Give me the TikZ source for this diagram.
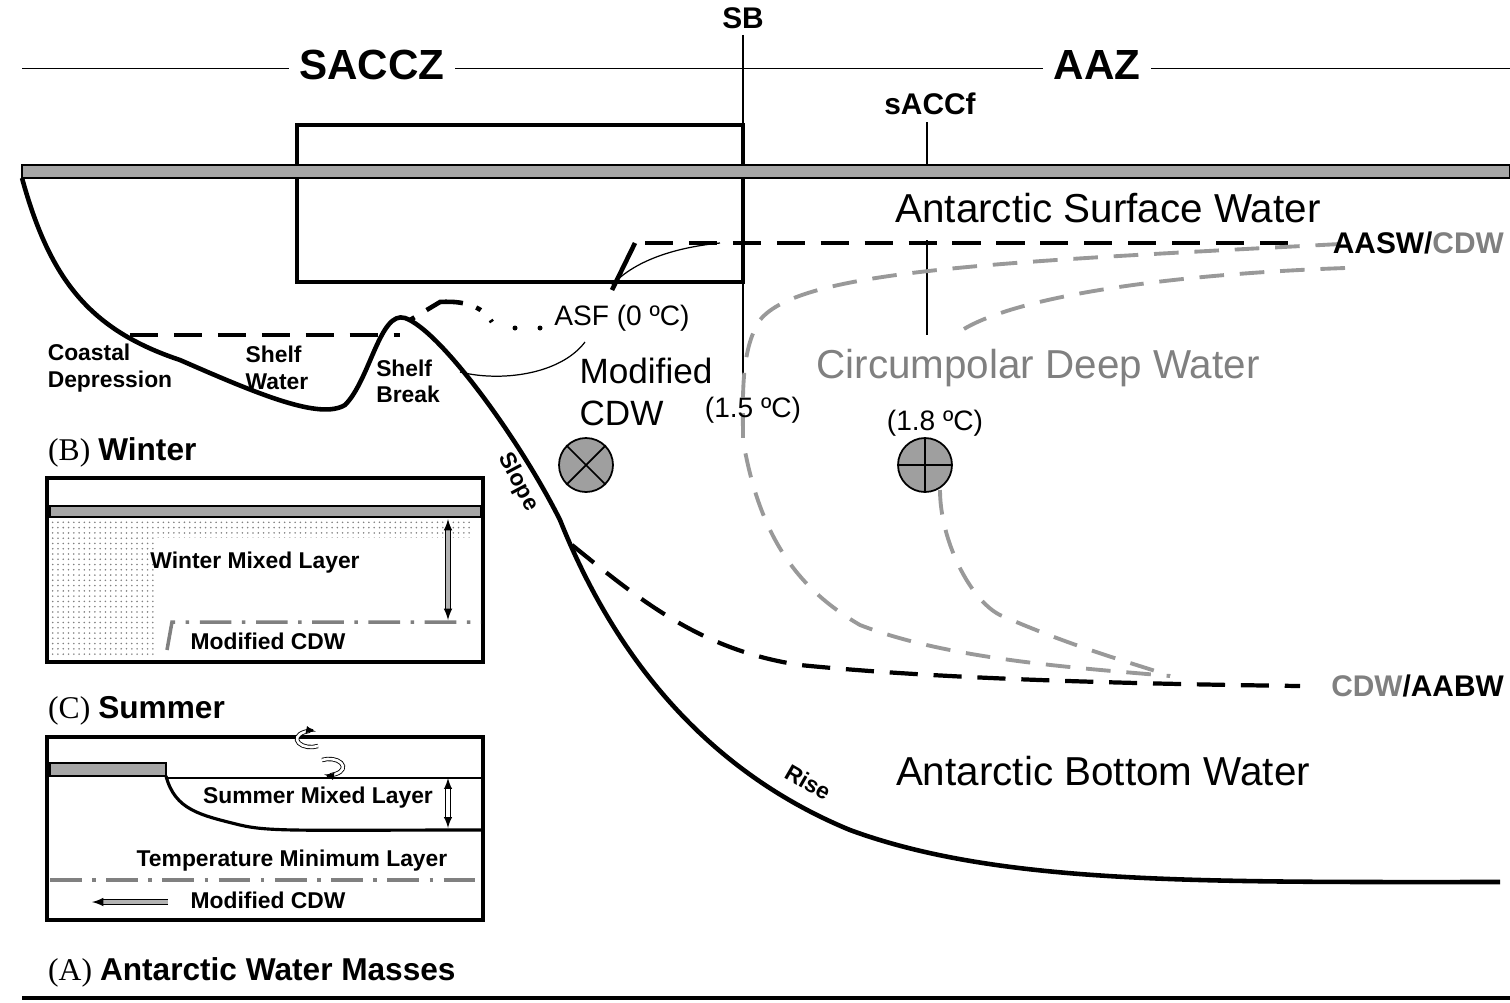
\documentclass[tikz,border=0pt]{standalone}
\usepackage{fontspec}
\setmainfont{Liberation Serif}
\setsansfont{Liberation Sans}
\usetikzlibrary{arrows, patterns, positioning}
\begin{document}
\begin{tikzpicture}[x = 0.02cm, y = -0.02cm, > = stealth,
    grey dash/.style = {draw = gray!80, line width = 2.2pt, dash pattern = on 14pt off 9pt},
    black dash/.style = {line width = 2.4pt, dash pattern = on 16pt off 9pt},
    dash dot/.style = {draw = gray, line width = 2pt, dash pattern = on 18pt off 6pt on 2pt off 6pt},
    lab/.style = {font = \sffamily\bfseries\fontsize{13}{15}\selectfont},
    mid/.style = {font = \sffamily\bfseries\fontsize{17}{19}\selectfont},
    num/.style = {font = \sffamily\fontsize{16}{18}\selectfont},
    big/.style = {font = \sffamily\fontsize{23}{27}\selectfont},
    zone/.style = {font = \sffamily\bfseries\fontsize{24}{26}\selectfont, fill = white, inner sep = 6pt},
    panel/.style = {font = \fontsize{18}{20}\selectfont, anchor = west},
    current/.style = {circle, draw, line width = 1pt, fill = gray!75, minimum size = 1.08cm, inner sep = 0pt},
    swirl/.style = {->, >=latex, double = white, double distance = 1.5pt, line width = 0.5pt}
  ]
  \useasboundingbox (0,0) rectangle (1510,1002);

  % zones along the top
  \coordinate (zl) at (22,68); \coordinate (zr) at (1510,68);
  \draw (zl) -- (zr);
  \node[zone] (saccz) at (372,65) {SACCZ};
  \node[zone] (aaz) at (1097,65) {AAZ};
  \node[mid] (sb) at (743,18) {SB};
  \node[mid] (saccf) at (930,104) {sACCf};
  \coordinate (sbfoot) at (743,375);
  \draw[line width = 1pt] (sb.south) -- (sbfoot);
  \draw[line width = 1pt] (927,122) -- (927,166);
  \draw[line width = 1pt] (927,240) -- (927,335);

  % box and ice surface
  \draw[line width = 2.4pt] (297,125) rectangle (743,282);
  \draw[fill = gray!70, line width = 0.8pt] (22,165) rectangle (1510,178);

  % bottom profile
  \draw[line width = 2.6pt] (22,178) .. controls (50,280) and (90,330) .. (180,360)
    .. controls (260,395) and (320,420) .. (345,405)
    .. controls (370,380) and (380,310) .. (405,318)
    .. controls (440,330) and (520,440) .. (560,520)
    .. controls (600,620) and (680,760) .. (850,830)
    .. controls (1000,885) and (1200,882) .. (1500,882);

  % fronts
  \draw[black dash] (130,335) -- (400,335);
  \draw[line width = 2.6pt, dash pattern = on 3pt off 8pt on 22pt off 8pt] (410,320) -- (440,302) .. controls (470,300) and (485,310) .. (492,322);
  \fill (515,328) circle (2.5); \fill (540,328) circle (2.5);
  \draw[black dash] (645,243) -- (1300,243);
  \draw[line width = 2.6pt] (612,290) -- (635,243);
  \draw[line width = 0.7pt] (612,285) .. controls (640,255) and (690,246) .. (720,243);
  \draw[line width = 0.7pt] (585,342) .. controls (560,375) and (500,382) .. (460,372);
  \draw[grey dash] (1340,244) .. controls (1000,262) and (800,270) .. (760,320) .. controls (740,350) and (743,400) .. (743,440)
    .. controls (760,540) and (800,590) .. (860,625) .. controls (950,660) and (1080,668) .. (1170,676);
  \draw[grey dash] (1345,268) .. controls (1150,275) and (1000,300) .. (955,335);
  \draw[grey dash] (940,490) .. controls (940,540) and (970,600) .. (1000,615) .. controls (1080,650) and (1140,665) .. (1170,676);
  \draw[black dash] (572,545) .. controls (640,600) and (700,650) .. (800,665) .. controls (950,680) and (1150,684) .. (1300,686);

  % currents
  \node[current] (into) at (586,465) {};
  \draw[line width = 1pt] (into.north west) -- (into.south east) (into.north east) -- (into.south west);
  \node[current] (outof) at (925,465) {};
  \draw[line width = 1pt] (outof.north) -- (outof.south) (outof.west) -- (outof.east);

  % water mass labels
  \node[big] (aasw) at (1108,208) {Antarctic Surface Water};
  \node[big, text = gray] (cdw) at (1038,368) {Circumpolar Deep Water};
  \node[big] (aabw) at (1103,771) {Antarctic Bottom Water};
  \node[big, align = left, font = \sffamily\fontsize{20}{24}\selectfont] (mcdw) at (646,392) {Modified\\CDW};
  \node[mid, anchor = east] (top) at (1510,243) {AASW/\textcolor{gray}{CDW}};
  \node[mid, anchor = east] (bot) at (1510,686) {\textcolor{gray}{CDW}/AABW};
  \node[num] (asf) at (622,318) {ASF (0 ºC)};
  \node[num] (t15) at (753,410) {(1.5 ºC)};
  \node[num] (t18) at (935,423) {(1.8 ºC)};
  \node[lab, align = left] (coast) at (110,368) {Coastal\\Depression};
  \node[lab, align = left] (shelf) at (277,368) {Shelf\\Water};
  \node[lab, align = left] (brk) at (408,381) {Shelf\\Break};
  \node[lab, rotate = -62, inner sep = 1pt] (slope) at (518,482) {Slope};
  \node[lab, rotate = -30, inner sep = 1pt] (rise) at (808,782) {Rise};

  % (B) winter
  \node[panel] (bt) at (42,452) {(B) \sffamily\bfseries Winter};
  \fill[pattern = dots, pattern color = gray] (50,518) rectangle (155,655);
  \fill[pattern = dots, pattern color = gray] (155,518) rectangle (470,537);
  \draw[line width = 2.6pt] (47,478) rectangle (483,662);
  \draw[fill = gray!70, line width = 0.8pt] (50,506) rectangle (481,517);
  \node[lab] (wml) at (255,563) {Winter Mixed Layer};
  \node[lab] (wcdw) at (268,641) {Modified CDW};
  \draw[dash dot] (167,650) -- (172,622) -- (481,622);
  \draw[<->, >=latex, double = gray!60, double distance = 2.5pt, line width = 0.6pt] (448,519) -- (448,620);

  % (C) summer
  \node[panel] (ct) at (42,711) {(C) \sffamily\bfseries Summer};
  \draw[line width = 2.6pt] (47,737) rectangle (483,920);
  \draw[fill = gray!70, line width = 0.8pt] (50,763) rectangle (166,776);
  \draw[line width = 0.7pt] (166,778) -- (481,778);
  \draw[line width = 1.8pt] (166,776) .. controls (175,810) and (200,815) .. (240,825) .. controls (270,832) and (300,830) .. (481,830);
  \node[lab] (sml) at (318,798) {Summer Mixed Layer};
  \node[lab] (tml) at (292,861) {Temperature Minimum Layer};
  \draw[dash dot] (50,880) -- (481,880);
  \node[lab] (scdw) at (268,900) {Modified CDW};
  \draw[<->, >=latex, double = white, double distance = 2pt, line width = 0.6pt] (448,778) -- (448,828);
  \draw[->, >=latex, double = gray!60, double distance = 2.5pt, line width = 0.6pt] (168,902) -- (92,902);
  \draw[swirl] (318,746) arc[start angle = 60, end angle = 290, x radius = 14, y radius = 8];
  \draw[swirl] (322,760) arc[start angle = 240, end angle = 470, x radius = 14, y radius = 8];

  \node[panel] (at) at (42,972) {(A) \sffamily\bfseries Antarctic Water Masses};
  \draw[line width = 2.4pt] (22,998) -- (1510,998);
\end{tikzpicture}
\end{document}
